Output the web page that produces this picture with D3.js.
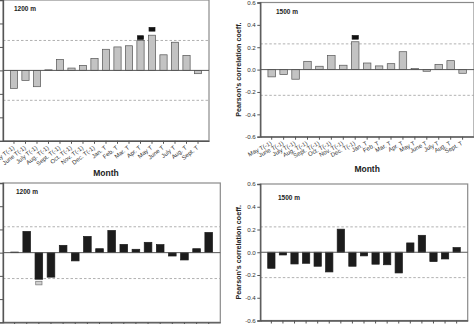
<!DOCTYPE html>
<html>
<head>
<meta charset="utf-8">
<script src="https://cdn.jsdelivr.net/npm/d3@7"></script>
<style>
  html, body { margin: 0; padding: 0; background: #fff; }
  svg { display: block; font-family: "Liberation Sans", Arial, sans-serif; }
</style>
</head>
<body>
<svg id="chart" width="474" height="324"></svg>
<script>
// ---- data ----
const categories = ["May T(-1)", "June T(-1)", "July T(-1)", "Aug. T(-1)", "Sept. T(-1)", "Oct. T(-1)",
  "Nov. T(-1)", "Dec. T(-1)", "Jan. T", "Feb. T", "Mar. T", "Apr. T", "May T", "June T", "July T", "Aug. T", "Sept. T"];
const yTickValues = [-0.6, -0.4, -0.2, 0, 0.2, 0.4, 0.6];

const temp1200 = [-0.153, -0.085, -0.139, 0.005, 0.094, 0.02, 0.043, 0.102, 0.18, 0.2, 0.21, 0.255, 0.30, 0.133, 0.24, 0.128, -0.028];
const temp1500 = [-0.065, -0.045, -0.086, 0.074, 0.03, 0.125, 0.039, 0.249, 0.059, 0.033, 0.053, 0.16, 0.009, -0.015, 0.047, 0.08, -0.033];
const prec1200 = [0.005, 0.183, -0.229, -0.211, 0.063, -0.071, 0.14, 0.034, 0.191, 0.071, 0.029, 0.089, 0.069, -0.029, -0.063, 0.034, 0.174];
const prec1500 = [-0.141, -0.024, -0.103, -0.097, -0.123, -0.173, 0.203, -0.123, -0.032, -0.105, -0.11, -0.182, 0.082, 0.149, -0.082, -0.059, 0.041];

const sig1200top = 0.255, sig1500top = 0.23, sig1200bottom = 0.223, sig1500bottom = 0.223;

const markers1200top = [{ cat: "Apr. T", value: 0.28 }, { cat: "May T", value: 0.35 }];
const markers1500top = [{ cat: "Dec. T(-1)", value: 0.288 }];
const markers1200bottom = [{ cat: "July T(-1)", value: -0.262 }];
const markers1500bottom = [];

const panelLabels = ["1200 m", "1500 m", "1200 m", "1500 m"];
const xTitle = "Month";
const yTitle = "Pearson's correlation coeff.";

// ---- layout ----
const panels = [
  { values: temp1200, sig: sig1200top, markers: markers1200top, label: panelLabels[0],
    x0: 3, x1: 209, y0: 0, y1: 140.8, barFill: "#c3c3c3", barStroke: "#555", markerFill: "#111", markerStroke: "#111",
    labelAngle: -38, showXLabels: true, labelPos: [14, 11], yTitleX: -20 },
  { values: temp1500, sig: sig1500top, markers: markers1500top, label: panelLabels[1],
    x0: 260.3, x1: 474, y0: 2.5, y1: 136.7, barFill: "#c3c3c3", barStroke: "#555", markerFill: "#111", markerStroke: "#111",
    labelAngle: -28, showXLabels: true, labelPos: [276, 14], yTitleX: 241 },
  { values: prec1200, sig: sig1200bottom, markers: markers1200bottom, label: panelLabels[2],
    x0: 3, x1: 220.3, y0: 183, y1: 322.3, barFill: "#1c1c1c", barStroke: "#1c1c1c", markerFill: "#d0d0d0", markerStroke: "#777",
    labelAngle: -38, showXLabels: true, labelPos: [16, 194], yTitleX: -20 },
  { values: prec1500, sig: sig1500bottom, markers: markers1500bottom, label: panelLabels[3],
    x0: 260.3, x1: 467.7, y0: 184, y1: 320.5, barFill: "#1c1c1c", barStroke: "#1c1c1c", markerFill: "#111", markerStroke: "#111",
    labelAngle: -28, showXLabels: true, labelPos: [278, 200], yTitleX: 241 }
];

const svg = d3.select("#chart");

panels.forEach(p => {
  const x = d3.scaleBand().domain(categories).range([p.x0, p.x1]).paddingInner(0.37).paddingOuter(0.64);
  const y = d3.scaleLinear().domain([-0.6, 0.6]).range([p.y1, p.y0]);
  const g = svg.append("g");

  // border (top & right)
  g.append("rect")
    .attr("x", p.x0).attr("y", y(0.6))
    .attr("width", p.x1 - p.x0).attr("height", y(-0.6) - y(0.6))
    .attr("fill", "none").attr("stroke", "#8a8a8a").attr("stroke-width", 1.2);

  // significance lines
  [p.sig, -p.sig].forEach(s => {
    g.append("line")
      .attr("x1", p.x0).attr("x2", p.x1)
      .attr("y1", y(s)).attr("y2", y(s))
      .attr("stroke", "#a8a8a8").attr("stroke-width", 0.9).attr("stroke-dasharray", "2.5,2");
  });

  // bars
  g.selectAll("rect.bar").data(p.values).enter().append("rect")
    .attr("class", "bar")
    .attr("x", (d, i) => x(categories[i]))
    .attr("width", x.bandwidth())
    .attr("y", d => y(Math.max(0, d)))
    .attr("height", d => Math.max(0.6, Math.abs(y(d) - y(0))))
    .attr("fill", p.barFill).attr("stroke", p.barStroke).attr("stroke-width", 0.7);

  // markers
  const mw = x.bandwidth() * 0.82;
  g.selectAll("rect.marker").data(p.markers).enter().append("rect")
    .attr("class", "marker")
    .attr("x", d => x(d.cat) + (x.bandwidth() - mw) / 2)
    .attr("y", d => y(d.value) - 1.8)
    .attr("width", mw).attr("height", 3.6)
    .attr("fill", p.markerFill).attr("stroke", p.markerStroke).attr("stroke-width", 0.7);

  // zero line
  g.append("line")
    .attr("x1", p.x0).attr("x2", p.x1)
    .attr("y1", y(0)).attr("y2", y(0))
    .attr("stroke", "#555").attr("stroke-width", 1);

  // y axis
  const ya = g.append("g").attr("transform", `translate(${p.x0},0)`)
    .call(d3.axisLeft(y).tickValues(yTickValues).tickSize(3).tickPadding(1.5).tickFormat(d => d.toFixed(1)));
  ya.select(".domain").attr("stroke", "#555").attr("stroke-width", 1.3);
  ya.selectAll(".tick line").attr("stroke", "#555");
  ya.selectAll(".tick text").attr("fill", "#333").style("font-size", "6.2px");

  // x axis
  const xa = g.append("g").attr("transform", `translate(0,${p.y1})`)
    .call(d3.axisBottom(x).tickSize(3).tickSizeOuter(0));
  xa.select(".domain").attr("stroke", "#555").attr("stroke-width", 1.3);
  xa.selectAll(".tick line").attr("stroke", "#555");
  xa.selectAll(".tick text")
    .attr("x", 0).attr("y", 0).attr("dy", "0.35em")
    .attr("transform", `translate(-0.5,6) rotate(${p.labelAngle})`)
    .style("text-anchor", "end").style("font-size", "6px").attr("fill", "#333");

  // x title
  g.append("text")
    .attr("x", (p.x0 + p.x1) / 2).attr("y", p.y1 + 35)
    .attr("text-anchor", "middle")
    .style("font-size", "8.5px").style("font-weight", "bold").attr("fill", "#222")
    .text(xTitle);

  // y title
  g.append("text")
    .attr("transform", `translate(${p.yTitleX},${(p.y0 + p.y1) / 2}) rotate(-90)`)
    .attr("text-anchor", "middle")
    .style("font-size", "7.2px").style("font-weight", "bold").attr("fill", "#222")
    .text(yTitle);

  // panel label
  g.append("text")
    .attr("x", p.labelPos[0]).attr("y", p.labelPos[1])
    .style("font-size", "6.5px").style("font-weight", "bold").attr("fill", "#222")
    .text(p.label);
});
</script>
</body>
</html>
